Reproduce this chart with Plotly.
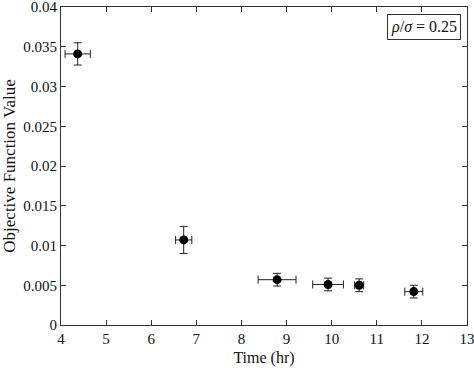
import plotly.graph_objects as go

time_hr = [4.37, 6.72, 8.79, 9.92, 10.61, 11.82]
time_err = [0.28, 0.18, 0.42, 0.34, 0.10, 0.20]
obj_val = [0.0341, 0.0107, 0.0057, 0.0051, 0.0050, 0.0042]
obj_err = [0.0014, 0.0017, 0.0008, 0.0008, 0.0008, 0.0008]

x_ticks = list(range(4, 14))
y_ticks = [0, 0.005, 0.01, 0.015, 0.02, 0.025, 0.03, 0.035, 0.04]
y_tick_text = ["0", "0.005", "0.01", "0.015", "0.02", "0.025", "0.03", "0.035", "0.04"]

FONT = "Liberation Serif"
AXC = "#333333"

fig = go.Figure()
fig.add_trace(go.Scatter(
    x=time_hr, y=obj_val, mode="markers",
    marker=dict(color="black", size=9),
    error_x=dict(type="data", array=time_err, color="#222222", thickness=1, width=4),
    error_y=dict(type="data", array=obj_err, color="#222222", thickness=1, width=4),
    showlegend=False,
))

axis_common = dict(
    showline=True, linecolor=AXC, linewidth=1, mirror="ticks",
    ticks="inside", ticklen=5, tickcolor=AXC, showgrid=False, zeroline=False,
    automargin=False, ticklabeloverflow="allow",
    tickfont=dict(family=FONT, size=15, color="#111111"),
)
fig.update_xaxes(range=[4, 13], tickvals=x_ticks,
                 title=dict(text="Time (hr)", font=dict(family=FONT, size=16, color="#111111"), standoff=5),
                 **axis_common)
fig.update_yaxes(range=[0, 0.04], tickvals=y_ticks, ticktext=y_tick_text,
                 title=dict(text="Objective Function Value", font=dict(family=FONT, size=17, color="#111111"), standoff=4),
                 **axis_common)

fig.add_annotation(
    xref="paper", yref="paper", x=0.985, y=0.978, xanchor="right", yanchor="top",
    text="<i>ρ</i>/<i>σ</i> = 0.25", showarrow=False,
    font=dict(family=FONT, size=16, color="#111111"),
    bordercolor=AXC, borderwidth=1, borderpad=3, bgcolor="white",
)

fig.update_layout(
    width=474, height=368,
    margin=dict(l=61, r=7, t=7, b=43),
    plot_bgcolor="white", paper_bgcolor="white",
    font=dict(family=FONT),
)
fig.write_html("out.html", config={"displayModeBar": False},
               post_script="document.body.style.margin='0';document.body.style.overflow='hidden';")
